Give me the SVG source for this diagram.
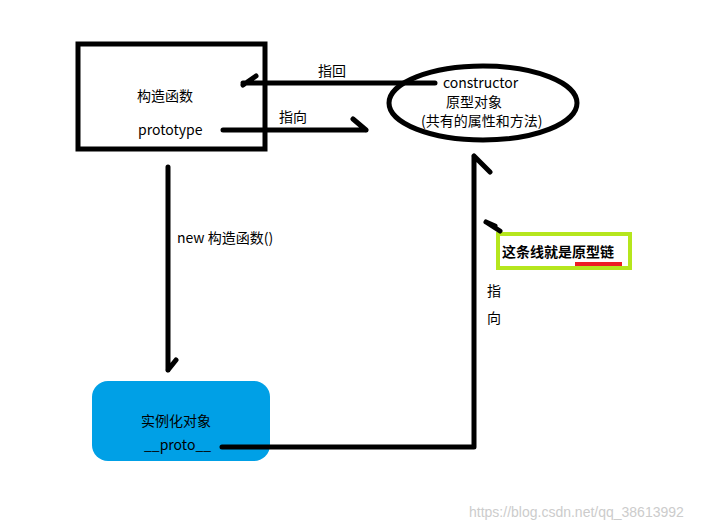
<svg xmlns="http://www.w3.org/2000/svg" width="722" height="529" viewBox="0 0 722 529">
<style>
text{font-family:"Microsoft YaHei","Noto Sans CJK SC",sans-serif;font-size:14px;fill:#000}
.ln{stroke:#000;stroke-width:5;fill:none;stroke-linecap:round;stroke-linejoin:round}
</style>
<rect width="722" height="529" fill="#fff"/>
<g id="ctor"><rect x="78" y="44" width="187" height="105" fill="#fff" stroke="#000" stroke-width="5"/>
<text x="137" y="101">构造函数</text><text x="138" y="135">prototype</text></g>
<g id="proto"><ellipse cx="483" cy="103" rx="94" ry="37" fill="#fff" stroke="#000" stroke-width="5"/>
<text x="443" y="88">constructor</text><text x="446" y="107">原型对象</text><text x="421" y="126" font-size="13">(共有的属性和方法)</text></g>
<g id="inst"><rect x="92" y="381" width="178" height="80" rx="16" fill="#00A0E6"/>
<text x="141" y="426">实例化对象</text><text x="144" y="450">__proto__</text></g>
<g id="note"><rect x="498" y="234" width="132" height="34" fill="#fff" stroke="#B5E61D" stroke-width="4"/>
<text x="502" y="257" font-weight="bold">这条线就是原型链</text>
<rect x="575" y="262" width="47" height="4" fill="#ED1C24"/></g>
<g id="connectors">
<path class="ln" d="M435 83H243M243 85L256 76"/>
<path class="ln" d="M223 130H366M366 130L353 119"/>
<path class="ln" d="M168 167V370M168 370L176 360"/>
<path class="ln" d="M222 447H474V156M474 156L490 172"/>
<path class="ln" d="M486 222L495 226M486 222L500 231"/>
<text x="318" y="76">指回</text><text x="279" y="122">指向</text>
<text x="177" y="243">new 构造函数()</text>
<text x="487" y="296">指</text><text x="487" y="323">向</text>
</g>
<text x="469" y="517" style="font-family:'Liberation Sans',sans-serif;font-size:14px;fill:#ccc">https://blog.csdn.net/qq_38613992</text>
</svg>
